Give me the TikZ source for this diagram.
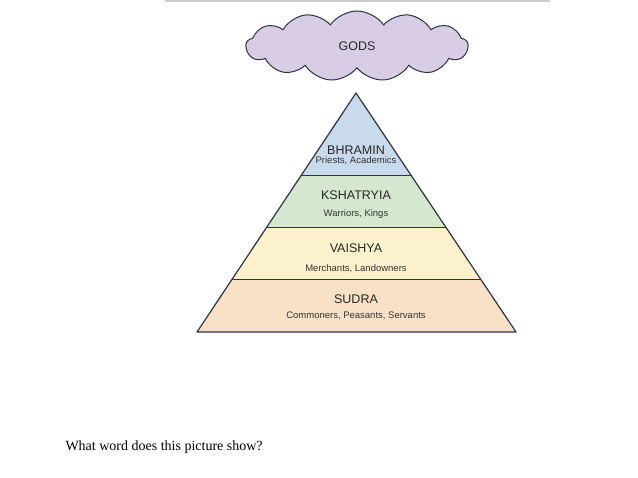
\documentclass[tikz,border=0pt]{standalone}
\usepackage{fontspec}
\setmainfont{Liberation Sans}
\newfontfamily\serifq{Liberation Serif}
\usetikzlibrary{shapes.symbols}
\definecolor{cloudc}{HTML}{D9CDE6}
\definecolor{bandA}{HTML}{C9DAEC}
\definecolor{bandB}{HTML}{D6E7D0}
\definecolor{bandC}{HTML}{FCF1CD}
\definecolor{bandD}{HTML}{F9E1C8}
\definecolor{edge}{HTML}{2B3440}
\tikzset{title/.style={font=\fontsize{12.5}{14}\selectfont, text=black!85},
 sub/.style={font=\fontsize{9.5}{11}\selectfont, text=black!80}}
\begin{document}
\begin{tikzpicture}[x=1pt,y=-1pt]
\useasboundingbox (0,0) rectangle (638,478);
\fill[white] (0,0) rectangle (638,478);
\draw[black!20, line width=1.2pt] (165,1) -- (550,1);
\node[cloud, cloud puffs=13, cloud puff arc=110, aspect=3, draw=edge, line width=1pt, fill=cloudc,
 minimum width=222pt, minimum height=70pt, inner sep=0pt] (gods) at (357,46) {};
\node[title] at (357,46) {GODS};
\coordinate (apex) at (356,93);
\coordinate (bl) at (197,332);
\coordinate (br) at (516,332);
\begin{scope}
\clip (apex) -- (bl) -- (br) -- cycle;
\fill[bandA] (150,80) rectangle (560,176);
\fill[bandB] (150,176) rectangle (560,228);
\fill[bandC] (150,228) rectangle (560,280);
\fill[bandD] (150,280) rectangle (560,340);
\draw[edge, line width=1pt] (150,176) -- (560,176) (150,228) -- (560,228) (150,280) -- (560,280);
\end{scope}
\draw[edge, line width=1.2pt, line join=round] (apex) -- (bl) -- (br) -- cycle;
\node[title] (b) at (356,150) {BHRAMIN};
\node[sub] (bs) at (356,161) {Priests, Academics};
\node[title] (k) at (356,195) {KSHATRYIA};
\node[sub] (ks) at (356,214) {Warriors, Kings};
\node[title] (v) at (356,248) {VAISHYA};
\node[sub] (vs) at (356,269) {Merchants, Landowners};
\node[title] (s) at (356,299) {SUDRA};
\node[sub] (ss) at (356,316) {Commoners, Peasants, Servants};
\node[anchor=west, font=\serifq\fontsize{14}{16}\selectfont] (q) at (62,447) {What word does this picture show?};
\end{tikzpicture}
\end{document}
